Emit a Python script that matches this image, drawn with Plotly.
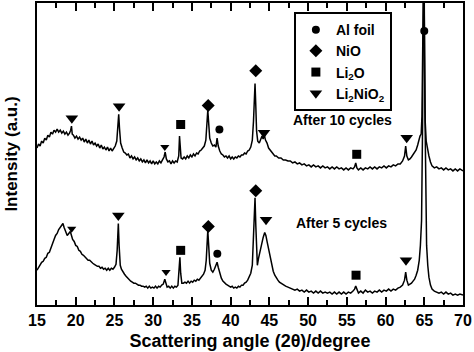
import plotly.graph_objects as go

# ---------------- data ----------------
two_theta_10 = [15.0, 15.2, 15.4, 15.6, 15.8, 16.0, 16.2, 16.4, 16.6, 16.8, 17.0, 17.2, 17.4, 17.6, 17.8,
                18.0, 18.2, 18.4, 18.6, 18.8, 19.0, 19.2, 19.35, 19.45, 19.55, 19.7, 19.9, 20.1, 20.3, 20.5,
                20.7, 20.9, 21.1, 21.3, 21.5, 21.7, 21.9, 22.1, 22.3, 22.5, 22.7, 22.9, 23.1, 23.3, 23.5,
                23.7, 23.9, 24.1, 24.3, 24.5, 24.7, 24.9, 25.1, 25.3, 25.45, 25.55, 25.65, 25.8, 26.0, 26.2,
                26.4, 26.6, 26.8, 27.0, 27.2, 27.4, 27.6, 27.8, 28.0, 28.2, 28.4, 28.6, 28.8, 29.0, 29.2,
                29.4, 29.6, 29.8, 30.0, 30.2, 30.4, 30.6, 30.8, 31.0, 31.2, 31.4, 31.55, 31.7, 31.9, 32.1,
                32.3, 32.5, 32.7, 32.9, 33.1, 33.3, 33.4, 33.5, 33.6, 33.8, 34.0, 34.2, 34.4, 34.6, 34.8,
                35.0, 35.2, 35.4, 35.6, 35.8, 36.0, 36.2, 36.4, 36.6, 36.8, 36.95, 37.05, 37.15, 37.3, 37.5,
                37.7, 37.9, 38.1, 38.25, 38.4, 38.6, 38.8, 39.0, 39.2, 39.4, 39.6, 39.8, 40.0, 40.2, 40.4,
                40.6, 40.8, 41.0, 41.2, 41.4, 41.6, 41.8, 42.0, 42.2, 42.4, 42.6, 42.8, 42.95, 43.05, 43.15,
                43.25, 43.35, 43.5, 43.7, 43.9, 44.05, 44.2, 44.35, 44.5, 44.7, 44.9, 45.1, 45.3, 45.5, 45.7,
                45.9, 46.2, 46.5, 46.8, 47.1, 47.4, 47.7, 48.0, 48.3, 48.6, 48.9, 49.2, 49.5, 49.8, 50.1,
                50.4, 50.7, 51.0, 51.3, 51.6, 51.9, 52.2, 52.5, 52.8, 53.1, 53.4, 53.7, 54.0, 54.3, 54.6,
                54.9, 55.2, 55.5, 55.8, 56.0, 56.15, 56.3, 56.5, 56.8, 57.1, 57.4, 57.7, 58.0, 58.3, 58.6,
                58.9, 59.2, 59.5, 59.8, 60.1, 60.4, 60.7, 61.0, 61.3, 61.6, 61.9, 62.2, 62.45, 62.6, 62.75,
                62.95, 63.15, 63.35, 63.55, 63.75, 63.95, 64.15, 64.3, 64.45, 64.6, 64.7, 64.8, 64.88, 64.96,
                65.04, 65.12, 65.25, 65.4, 65.6, 65.8, 66.0, 66.3, 66.6, 66.9, 67.2, 67.5, 67.8, 68.1, 68.4,
                68.7, 69.0, 69.3, 69.6, 70.0]
intensity_10 = [158, 162, 160, 165, 163, 168, 166, 171, 169, 174, 172, 176, 174, 177, 174,
                176, 173, 175, 172, 174, 171, 173, 176, 180, 172, 171, 168, 170, 167, 169,
                166, 168, 164, 167, 163, 166, 162, 165, 161, 163, 160, 162, 158, 161, 157,
                159, 156, 159, 155, 158, 155, 158, 160, 165, 180, 192, 178, 163, 158, 154,
                153, 151, 152, 148, 150, 147, 149, 146, 148, 145, 147, 144, 146, 143, 146,
                143, 145, 142, 145, 142, 144, 142, 145, 143, 146, 149, 154, 147, 144, 145,
                142, 145, 143, 145, 144, 150, 170, 160, 148, 147, 149, 147, 150, 148, 151,
                149, 152, 150, 153, 152, 155, 156, 158, 160, 166, 180, 196, 185, 168, 163,
                160, 161, 159, 168, 160, 155, 152, 151, 149, 150, 148, 150, 147, 149, 147,
                149, 148, 150, 149, 151, 151, 153, 152, 155, 156, 159, 166, 185, 215, 223,
                200, 175, 165, 163, 167, 170, 167, 171, 166, 163, 158, 156, 153, 152, 150,
                150, 148, 148, 146, 146, 145, 145, 143, 144, 142, 143, 141, 142, 140, 141,
                139, 141, 139, 140, 138, 140, 138, 139, 137, 139, 137, 139, 137, 138, 136,
                138, 136, 138, 137, 139, 143, 138, 136, 138, 136, 138, 137, 139, 137, 139,
                137, 139, 138, 140, 138, 140, 139, 141, 140, 142, 142, 145, 150, 160, 150,
                146, 147, 149, 151, 153, 156, 161, 166, 170, 172, 190, 260, 330, 330,
                250, 185, 165, 157, 150, 144, 140, 138, 139, 137, 138, 136, 138, 136, 137,
                135, 137, 135, 137, 135]

two_theta_5 = [15.0, 15.2, 15.4, 15.6, 15.8, 16.0, 16.2, 16.4, 16.6, 16.8, 17.0, 17.2, 17.4, 17.6, 17.8,
               18.0, 18.2, 18.35, 18.5, 18.7, 18.9, 19.1, 19.3, 19.45, 19.6, 19.8, 20.0, 20.2, 20.4, 20.6,
               20.8, 21.0, 21.2, 21.4, 21.6, 21.8, 22.0, 22.2, 22.4, 22.6, 22.8, 23.0, 23.2, 23.4, 23.6,
               23.8, 24.0, 24.2, 24.4, 24.6, 24.8, 25.0, 25.2, 25.35, 25.5, 25.6, 25.75, 25.9, 26.1, 26.3,
               26.5, 26.7, 26.9, 27.1, 27.3, 27.5, 27.7, 27.9, 28.1, 28.3, 28.5, 28.7, 28.9, 29.1, 29.3,
               29.5, 29.7, 29.9, 30.1, 30.3, 30.5, 30.7, 30.9, 31.1, 31.3, 31.5, 31.65, 31.8, 32.0, 32.2,
               32.4, 32.6, 32.8, 33.0, 33.2, 33.35, 33.45, 33.55, 33.7, 33.9, 34.1, 34.3, 34.5, 34.7, 34.9,
               35.1, 35.3, 35.5, 35.7, 35.9, 36.1, 36.3, 36.5, 36.7, 36.85, 36.95, 37.05, 37.15, 37.3, 37.5,
               37.7, 37.9, 38.1, 38.25, 38.4, 38.6, 38.8, 39.0, 39.2, 39.4, 39.6, 39.8, 40.0, 40.2, 40.4,
               40.6, 40.8, 41.0, 41.2, 41.4, 41.6, 41.8, 42.0, 42.2, 42.4, 42.6, 42.8, 42.95, 43.05, 43.15,
               43.25, 43.35, 43.45, 43.6, 43.8, 44.0, 44.2, 44.4, 44.55, 44.7, 44.9, 45.1, 45.3, 45.5, 45.7,
               45.9, 46.1, 46.3, 46.5, 46.8, 47.1, 47.4, 47.7, 48.0, 48.3, 48.6, 48.9, 49.2, 49.5, 49.8,
               50.1, 50.4, 50.7, 51.0, 51.3, 51.6, 51.9, 52.2, 52.5, 52.8, 53.1, 53.4, 53.7, 54.0, 54.3,
               54.6, 54.9, 55.2, 55.5, 55.8, 56.0, 56.15, 56.3, 56.5, 56.8, 57.1, 57.4, 57.7, 58.0, 58.3,
               58.6, 58.9, 59.2, 59.5, 59.8, 60.1, 60.4, 60.7, 61.0, 61.3, 61.6, 61.9, 62.2, 62.45, 62.6,
               62.75, 62.95, 63.15, 63.35, 63.55, 63.75, 63.95, 64.15, 64.35, 64.5, 64.65, 64.78, 64.88, 64.98,
               65.08, 65.18, 65.3, 65.45, 65.6, 65.8, 66.0, 66.3, 66.6, 66.9, 67.2, 67.5, 67.8, 68.1, 68.4,
               68.7, 69.0, 69.3, 69.6, 70.0]
intensity_5 = [35, 38, 40, 43, 44, 47, 48, 52, 53, 58, 62, 66, 70, 72, 76,
               78, 80, 82, 78, 74, 70, 72, 74, 70, 66, 64, 60, 59, 55, 54,
               51, 50, 48, 47, 45, 45, 43, 42, 41, 40, 39, 39, 37, 38, 36,
               37, 35, 37, 35, 37, 36, 38, 41, 55, 82, 60, 40, 36, 33, 31,
               29, 27, 26, 24, 23, 22, 22, 21, 20, 20, 19, 19, 18, 19, 17,
               19, 17, 18, 17, 19, 17, 19, 18, 20, 21, 26, 22, 18, 19, 17,
               19, 17, 19, 18, 20, 35, 48, 32, 22, 22, 23, 22, 24, 22, 24,
               23, 25, 24, 26, 25, 27, 28, 31, 35, 45, 60, 75, 62, 42, 35,
               33, 36, 40, 43, 38, 32, 27, 24, 22, 21, 20, 19, 18, 19, 17,
               18, 17, 19, 18, 20, 20, 22, 23, 25, 28, 32, 40, 65, 95, 108,
               80, 45, 40, 47, 55, 62, 68, 73, 70, 64, 56, 47, 40, 34, 30,
               27, 25, 23, 22, 20, 19, 18, 17, 16, 15, 16, 14, 15, 13, 15,
               13, 14, 12, 14, 12, 14, 12, 13, 12, 13, 11, 13, 11, 13, 11,
               13, 11, 13, 12, 14, 16, 19, 15, 12, 14, 12, 15, 13, 14, 12,
               14, 13, 15, 13, 15, 14, 16, 14, 16, 15, 17, 18, 20, 25, 33,
               25, 20, 21, 22, 24, 26, 30, 35, 45, 60, 85, 180, 330, 330,
               200, 90, 60, 40, 28, 20, 16, 14, 13, 12, 13, 11, 13, 11, 12,
               10, 11, 10, 11, 10]

# phase markers placed above the reflections (2theta, intensity level)
phase_names = ["Al foil", "NiO", "Li<sub>2</sub>O", "Li<sub>2</sub>NiO<sub>2</sub>"]
al_x = [38.55, 65.0, 38.28]
al_y = [176.7, 275.7, 51.7]
nio_x = [37.1, 43.24, 37.12, 43.24]
nio_y = [200.7, 235.7, 79.0, 115.0]
li2o_x = [33.55, 56.28, 33.55, 56.19]
li2o_y = [181.7, 151.7, 55.0, 30.0]
li2nio2_x = [19.5, 25.6, 44.3, 62.73, 25.5, 44.57, 62.64]
li2nio2_y = [188.0, 200.0, 173.3, 168.3, 90.0, 85.7, 45.0]
li2nio2_small_x = [31.5, 19.48, 31.66]
li2nio2_small_y = [159.0, 76.7, 33.3]

x_ticks = [15, 20, 25, 30, 35, 40, 45, 50, 55, 60, 65, 70]
labels = ["After 10 cycles", "After 5 cycles"]
label_x = [54.5, 54.35]
label_y = [186.0, 82.7]

# ---------------- figure ----------------
FONT = "Liberation Sans, Arial, sans-serif"
fig = go.Figure()

fig.add_trace(go.Scatter(x=two_theta_10, y=intensity_10, mode="lines",
                         line=dict(color="black", width=1.5), showlegend=False, hoverinfo="skip"))
fig.add_trace(go.Scatter(x=two_theta_5, y=intensity_5, mode="lines",
                         line=dict(color="black", width=1.5), showlegend=False, hoverinfo="skip"))

marker_sets = [
    (al_x, al_y, "circle", 8),
    (nio_x, nio_y, "diamond", 10),
    (li2o_x, li2o_y, "square", 9),
    (li2nio2_x, li2nio2_y, "triangle-down", 11),
]
for name, (mx, my, sym, sz) in zip(phase_names, marker_sets):
    fig.add_trace(go.Scatter(x=mx, y=my, mode="markers", name=name,
                             marker=dict(symbol=sym, size=sz, color="black"),
                             hoverinfo="skip"))
fig.add_trace(go.Scatter(x=li2nio2_small_x, y=li2nio2_small_y, mode="markers",
                         marker=dict(symbol="triangle-down", size=8, color="black"),
                         showlegend=False, hoverinfo="skip"))

for t, lx, ly in zip(labels, label_x, label_y):
    fig.add_annotation(x=lx, y=ly, text=t, showarrow=False,
                       font=dict(family=FONT, size=14, color="black", weight="bold"))

fig.update_layout(
    width=474, height=352,
    margin=dict(l=37, r=11, t=1, b=47),
    paper_bgcolor="white", plot_bgcolor="white",
    font=dict(family=FONT, color="black"),
    legend=dict(x=0.603, y=0.97, xanchor="left", yanchor="top",
                bordercolor="black", borderwidth=2, bgcolor="white",
                font=dict(family=FONT, size=14, color="black", weight="bold"),
                itemwidth=30, tracegroupgap=0),
    xaxis=dict(range=[15, 70], tickvals=x_ticks, ticks="inside",
               ticklen=8, tickwidth=2, tickcolor="black",
               showline=True, linewidth=2, linecolor="black", mirror="ticks",
               gridcolor="rgba(0,0,0,0)",
               minor=dict(dtick=2.5, ticks="inside", ticklen=5, tickwidth=2, tickcolor="black"),
               tickfont=dict(family=FONT, size=16, color="black", weight="bold"),
               title=dict(text="Scattering angle (2θ)/degree", standoff=6,
                          font=dict(family=FONT, size=18, color="black", weight="bold"))),
    yaxis=dict(range=[0, 304], showticklabels=False, ticks="", showline=True, linewidth=2,
               linecolor="black", mirror=True, gridcolor="rgba(0,0,0,0)", zeroline=False,
               title=dict(text="Intensity (a.u.)", standoff=13,
                          font=dict(family=FONT, size=17, color="black", weight="bold"))),
)

fig.write_html("out.html")
